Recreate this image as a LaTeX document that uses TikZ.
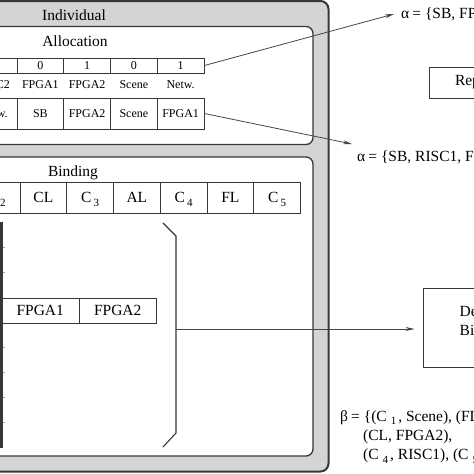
\documentclass[tikz,border=0pt]{standalone}
\usepackage{fontspec}
\setmainfont{Liberation Serif}
\usetikzlibrary{arrows.meta}
\definecolor{bandgray}{RGB}{212,212,212}
\definecolor{linec}{RGB}{55,55,55}
\definecolor{arrc}{RGB}{70,70,70}
\newcommand\bigf{\fontsize{15.5}{19}\selectfont}
\newcommand\smallf{\fontsize{12}{14}\selectfont}
\newcommand\sbs[1]{\kern2pt\raisebox{-0.5ex}{\fontsize{11}{12}\selectfont #1}}
\newcommand\fsb[1]{\kern4pt\raisebox{-0.55ex}{\fontsize{11}{12}\selectfont #1}\kern2pt}
\newcommand\eqsp{\kern3pt=\kern4pt}
\begin{document}
\begin{tikzpicture}[x=1pt,y=-1pt,
  cellbase/.style={draw=linec, line width=0.9pt, inner sep=0pt, anchor=center},
  allocell/.style={cellbase, minimum width=46.75pt, minimum height=15pt, font=\smallf, text height=10pt, text depth=2pt},
  mapcell/.style={cellbase, minimum width=46.75pt, minimum height=31pt, font=\smallf, text height=10pt, text depth=2pt},
  bindcell/.style={cellbase, minimum width=46.75pt, minimum height=31pt, font=\bigf, text height=13pt, text depth=2.8pt},
  fpgacell/.style={cellbase, minimum width=77.5pt, minimum height=25pt, font=\bigf, text height=13pt, text depth=2.8pt},
  title/.style={inner sep=0pt, font=\bigf, anchor=base},
  lbl/.style={inner sep=0pt, font=\smallf},
  formula/.style={inner sep=0pt, font=\bigf, anchor=base west},
  arr/.style={draw=arrc, line width=0.8pt, -{Stealth[length=9pt,width=4pt]}},
  procbox/.style={draw=linec, line width=0.9pt, inner sep=0pt},
  outerbox/.style={fill=bandgray, draw=linec, line width=2pt, rounded corners=8pt},
  innerbox/.style={fill=white, draw=linec, line width=1.3pt, rounded corners=7pt},
  bracket/.style={draw=linec, line width=1.1pt},
]
\useasboundingbox (0,0) rectangle (474,474);
% boxes
\draw[outerbox] (-200,1) rectangle (328.5,471.5);
\draw[innerbox] (-190,26.5) rectangle (313,144.5);
\draw[innerbox] (-190,157) rectangle (313,456);
\node[title] (indiv) at (74,20.5) {Individual};
\node[title] (alloc) at (75,46) {Allocation};
\node[title] (bind) at (73,176.7) {Binding};
% allocation bits
\node[allocell] (bit0) at (-6.375,65.5) {};
\node[allocell] (bit1) at (40.375,65.5) {0};
\node[allocell] (bit2) at (87.125,65.5) {1};
\node[allocell] (bit3) at (133.875,65.5) {0};
\node[allocell] (bit4) at (180.625,65.5) {1};
\node[lbl] (l0) at (-6.375,85) {RISC2};
\node[lbl] (l1) at (40.375,85) {FPGA1};
\node[lbl] (l2) at (87.125,85) {FPGA2};
\node[lbl] (l3) at (133.875,85) {Scene};
\node[lbl] (l4) at (180.625,85) {Netw.};
% mapping row
\node[mapcell] (map0) at (-6.375,113.5) {Netw.};
\node[mapcell] (map1) at (40.375,113.5) {SB};
\node[mapcell] (map2) at (87.125,113.5) {FPGA2};
\node[mapcell] (map3) at (133.875,113.5) {Scene};
\node[mapcell] (map4) at (180.625,113.5) {FPGA1};
% binding row
\node[bindcell] (b0) at (-3.375,197.5) {C\sbs{2}};
\node[bindcell] (b1) at (43.375,197.5) {CL};
\node[bindcell] (b2) at (90.125,197.5) {C\sbs{3}};
\node[bindcell] (b3) at (136.875,197.5) {AL};
\node[bindcell] (b4) at (183.625,197.5) {C\sbs{4}};
\node[bindcell] (b5) at (230.375,197.5) {FL};
\node[bindcell] (b6) at (277.125,197.5) {C\sbs{5}};
% left column edge
\draw[draw=linec, line width=3pt] (1.5,222) -- (1.5,448);
\foreach \yy in {247,272,347,372,397,422} \draw[gray!70, line width=0.5pt] (3,\yy) -- (5,\yy);
% FPGA row
\node[fpgacell] (f1) at (40.25,310.5) {FPGA1};
\node[fpgacell] (f2) at (117.75,310.5) {FPGA2};
% bracket
\coordinate (bt) at (163,223);
\coordinate (bb) at (163,447);
\coordinate (bmid) at (176,329);
\draw[bracket] (bt) -- (176,236) -- (176,433) -- (bb);
% right side
\node[formula] (alpha1) at (401,18) {α\eqsp\{SB, FPGA2, Netw.\}};
\node[formula] (alpha2) at (357,161) {α\eqsp\{SB, RISC1, FPGA2, Netw.\}};
\node[procbox, minimum width=102pt, minimum height=31pt, font=\bigf, text width=50pt, align=left] (rep) at (480,82.5) {Repair};
\node[procbox, minimum width=114pt, minimum height=79pt] (dec) at (480,327.5) {};
\node[inner sep=0pt, font=\bigf, align=left, anchor=west] (dectext) at (459.5,322) {Decode\\Binding};
\node[formula] (beta1) at (340,421) {β\eqsp\{(C\fsb{1}, Scene), (FL, FPGA1),};
\node[formula] (beta2) at (363,440.5) {(CL, FPGA2),};
\node[formula] (beta3) at (363,459.5) {(C\fsb{4}, RISC1), (C\fsb{5}, FPGA1)\}};
% arrows
\coordinate (t1) at (394,14);
\coordinate (t2) at (352,144);
\draw[arr] (bit4.east) -- (t1);
\draw[arr] (map4.east) -- (t2);
\draw[arr, shorten >=8pt] (bmid) -- (bmid -| dec.west);
\end{tikzpicture}
\end{document}
